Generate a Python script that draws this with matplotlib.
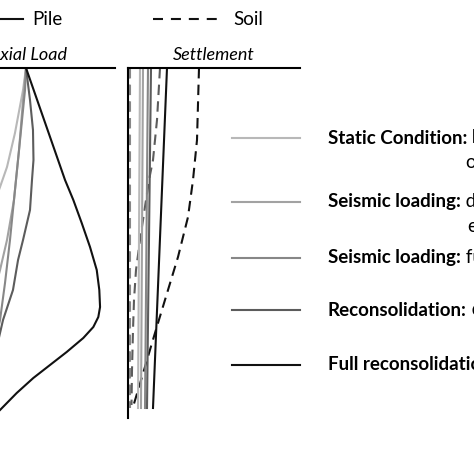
import numpy as np
import matplotlib
matplotlib.use("Agg")
import matplotlib.pyplot as plt

plt.rcParams['font.family'] = ['Lato', 'DejaVu Sans']

# --- DATA ---
# axial load in the pile [kN] vs depth [m]
depth_static = [0, 2.2, 6.5, 9.9, 11.9, 16, 22, 34]
load_static = [1000, 964, 867, 771, 687, 506, 350, 200]

depth_seis_d = [0, 3.2, 8.2, 13.2, 17.2, 20.2, 26, 34]
load_seis_d = [1000, 964, 916, 855, 771, 687, 500, 300]

depth_seis_fu = [0, 2.2, 7.2, 12.2, 17.2, 21.5, 25.2, 34]
load_seis_fu = [1000, 988, 928, 867, 807, 747, 687, 450]

depth_recon = [0, 3.2, 6.2, 9.2, 11.2, 14.2, 17.2, 19.2, 22.2, 25.2, 30, 34]
load_recon = [1000, 1048, 1084, 1090, 1072, 1048, 964, 904, 843, 723, 590, 500]

depth_full = [0, 5.6, 11.2, 13.2, 15.5, 17.9, 20.2, 22.2, 23.9, 24.9, 25.9,
              27.0, 28.4, 29.7, 31.0, 32.5, 34.2, 35]
load_full = [1000, 1235, 1470, 1570, 1671, 1771, 1852, 1883, 1892, 1871, 1811,
             1690, 1490, 1289, 1088, 888, 687, 590]

# settlement [mm] vs depth [m]
pile_depth = [0, 34]
pile_static = [30, 25]
pile_seis_d = [37.5, 32.5]
pile_seis_fu = [50, 42.5]
pile_recon = [57.5, 47.5]
pile_full = [97.5, 62.5]

soil_static = [0.5, 0.5]
soil_seis_d = [2, 2]
soil_seis_fu = [5, 5]

soil_recon_z = [0, 5.2, 9.2, 10.7, 13.2, 17.2, 20.2, 23.2, 26.2, 30.2, 33.7]
soil_recon = [80, 72.5, 62.5, 55, 45, 30, 20, 15, 12.5, 10, 8.75]

soil_full_z = [0, 7.2, 11.2, 14.9, 18.9, 25.5, 27.5, 30.9, 33.9]
soil_full = [177.5, 172.5, 162.5, 150, 125, 75, 60, 35, 12.5]

colors = ['#b8b8b8', '#a2a2a2', '#878787', '#5c5c5c', '#111111']
labels_bold = ['Static Condition:', 'Seismic loading:', 'Seismic loading:',
               'Reconsolidation:', 'Full reconsolidation']
labels_rest = [' before earthquake', ' during shaking', ' full liquefaction',
               ' dissipation', '']
labels_second = ['onset', 'excess pore pressure', None, None, None]

LW = 1.5
DASH = (0, (5, 3))
FS = 13.5

fig = plt.figure(figsize=(4.74, 4.74), dpi=100)
W = 474.0


def px_rect(x0, x1, y0, y1):
    return [x0 / W, 1 - y1 / W, (x1 - x0) / W, (y1 - y0) / W]


# --- Axial load panel (partly outside the crop) ---
ax1 = fig.add_axes(px_rect(-57, 115, 68, 418))
loads = [(load_static, depth_static), (load_seis_d, depth_seis_d),
         (load_seis_fu, depth_seis_fu), (load_recon, depth_recon),
         (load_full, depth_full)]
for (x, z), c in zip(loads, colors):
    ax1.plot(x, z, color=c, lw=LW, solid_capstyle='butt')
ax1.set_xlim(0, 2072)
ax1.set_ylim(35, 0)
ax1.set_title('Axial Load', style='italic', fontsize=13, pad=5.5)

# --- Settlement panel ---
ax2 = fig.add_axes(px_rect(128, 300, 68, 418))
for s, c in zip([soil_static, soil_seis_d, soil_seis_fu], colors[:3]):
    ax2.plot(s, pile_depth, color=c, lw=LW, ls=DASH)
ax2.plot(soil_recon, soil_recon_z, color=colors[3], lw=LW, ls=DASH)
ax2.plot(soil_full, soil_full_z, color=colors[4], lw=LW, ls=DASH)
for s, c in zip([pile_static, pile_seis_d, pile_seis_fu, pile_recon, pile_full], colors):
    ax2.plot(s, pile_depth, color=c, lw=LW)
ax2.set_xlim(0, 430)
ax2.set_ylim(35, 0)
ax2.set_title('Settlement', style='italic', fontsize=13, pad=5.5)

for ax in (ax1, ax2):
    ax.set_xticks([])
    ax.set_yticks([])
    for side in ('right', 'bottom'):
        ax.spines[side].set_visible(False)
    ax.spines['top'].set_linewidth(LW)
    ax.spines['left'].set_linewidth(LW)
ax1.spines['left'].set_visible(False)

# --- legends (drawn by hand, pixel layout) ---
lg = fig.add_axes([0, 0, 1, 1])
lg.set_xlim(0, W)
lg.set_ylim(W, 0)
lg.axis('off')

lg.plot([-37, 23], [19, 19], color='#111111', lw=LW)
lg.text(32, 19, 'Pile', fontsize=FS, va='center', ha='left')
lg.plot([153, 217], [19, 19], color='#111111', lw=LW, ls=(0, (4.8, 3.8)))
lg.text(233, 19, 'Soil', fontsize=FS, va='center', ha='left')

rows = [138, 202, 258, 310, 365]
for y, c, b, r, s2 in zip(rows, colors, labels_bold, labels_rest, labels_second):
    lg.plot([232, 300], [y, y], color=c, lw=LW)
    t = lg.text(328, y, b, fontsize=FS, fontweight='bold', va='center', ha='left')
    if r:
        lg.annotate(r, xy=(1, 0), xycoords=t, va='bottom', ha='left', fontsize=FS)
    if s2:
        lg.text(465 if s2 == 'onset' else 468, y + 24, s2, fontsize=FS,
                va='center', ha='left')

fig.savefig('out.png', dpi=100)
